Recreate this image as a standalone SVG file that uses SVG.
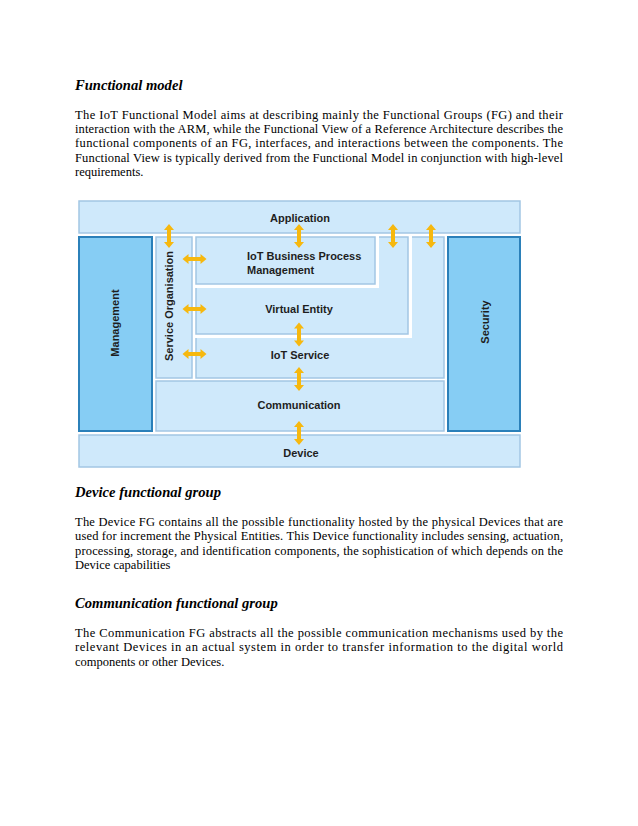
<svg xmlns="http://www.w3.org/2000/svg" width="638" height="826" viewBox="0 0 638 826">
<style>
.h{font-family:"Liberation Serif","Times New Roman",serif;font-weight:bold;font-style:italic;font-size:14.6px;fill:#000}
.p{font-family:"Liberation Serif","Times New Roman",serif;font-size:12.5px;fill:#000}
.box{fill:#cfe9fb;stroke:#a3c6e4;stroke-width:1.5}
.side{fill:#86cdf4;stroke:#2b80b9;stroke-width:2}
.gap{fill:#ffffff}
.lbl{font-family:"Liberation Sans",Arial,sans-serif;font-weight:bold;font-size:11px;fill:#1e1e1e}
.arr{fill:#f6b80f}
</style>
<defs>
<path id="va" d="M0,-12 L5,-6 L2,-6 L2,6 L5,6 L0,12 L-5,6 L-2,6 L-2,-6 L-5,-6 Z"/>
</defs>
<rect width="638" height="826" fill="#ffffff"/>

<g id="text">
<text class="h" x="75" y="90">Functional model</text>
<text class="p" x="75" y="118.5" textLength="488" lengthAdjust="spacing">The IoT Functional Model aims at describing mainly the Functional Groups (FG) and their</text>
<text class="p" x="75" y="132.9" textLength="488" lengthAdjust="spacing">interaction with the ARM, while the Functional View of a Reference Architecture describes the</text>
<text class="p" x="75" y="147.3" textLength="488" lengthAdjust="spacing">functional components of an FG, interfaces, and interactions between the components.   The</text>
<text class="p" x="75" y="161.7" textLength="488" lengthAdjust="spacing">Functional View is typically derived from the Functional Model in conjunction with high-level</text>
<text class="p" x="75" y="176.1">requirements.</text>

<text class="h" x="75" y="497">Device functional group</text>
<text class="p" x="75" y="526" textLength="488" lengthAdjust="spacing">The Device FG contains all the possible functionality hosted by the physical Devices that are</text>
<text class="p" x="75" y="540.4" textLength="488" lengthAdjust="spacing">used for increment the Physical Entities. This Device functionality includes sensing, actuation,</text>
<text class="p" x="75" y="554.8" textLength="488" lengthAdjust="spacing">processing, storage, and identification components, the sophistication of which depends on the</text>
<text class="p" x="75" y="569.2">Device capabilities</text>

<text class="h" x="75" y="608">Communication functional group</text>
<text class="p" x="75" y="637" textLength="488" lengthAdjust="spacing">The Communication FG abstracts all the possible communication mechanisms used by the</text>
<text class="p" x="75" y="651.4" textLength="488" lengthAdjust="spacing">relevant Devices in an actual system in order to transfer information to the digital world</text>
<text class="p" x="75" y="665.8">components or other Devices.</text>
</g>

<g id="application">
<rect class="box" x="79" y="201" width="441" height="32"/>
<text class="lbl" x="300" y="221.5" text-anchor="middle">Application</text>
</g>
<g id="management">
<rect class="side" x="79" y="237" width="73" height="194"/>
<text class="lbl" transform="translate(119,323) rotate(-90)" text-anchor="middle">Management</text>
</g>
<g id="service-organisation">
<rect class="box" x="156" y="237" width="36" height="141"/>
<text class="lbl" transform="translate(172.5,306) rotate(-90)" text-anchor="middle">Service Organisation</text>
</g>
<g id="iot-service">
<rect class="box" x="196" y="237" width="248" height="141"/>
<text class="lbl" x="300" y="359" text-anchor="middle">IoT Service</text>
</g>
<g id="virtual-entity">
<rect class="gap" x="195" y="236" width="217" height="102"/>
<rect class="box" x="196" y="237" width="212" height="97"/>
<text class="lbl" x="299" y="313" text-anchor="middle">Virtual Entity</text>
</g>
<g id="iot-business-process-management">
<rect class="gap" x="195" y="236" width="184" height="52"/>
<rect class="box" x="196" y="237" width="179" height="47"/>
<text class="lbl" x="247" y="259.5">IoT Business Process</text>
<text class="lbl" x="247" y="273.5">Management</text>
</g>
<g id="communication">
<rect class="box" x="156" y="381" width="288" height="50"/>
<text class="lbl" x="299" y="409" text-anchor="middle">Communication</text>
</g>
<g id="security">
<rect class="side" x="448" y="237" width="72" height="194"/>
<text class="lbl" transform="translate(489,322) rotate(-90)" text-anchor="middle">Security</text>
</g>
<g id="device">
<rect class="box" x="79" y="435" width="441" height="32"/>
<text class="lbl" x="301" y="457" text-anchor="middle">Device</text>
</g>

<g id="connectors" class="arr">
<use href="#va" transform="translate(169,236)"/>
<use href="#va" transform="translate(299,236)"/>
<use href="#va" transform="translate(393,236)"/>
<use href="#va" transform="translate(431,236)"/>
<use href="#va" transform="translate(194.5,259) rotate(90)"/>
<use href="#va" transform="translate(194.5,309) rotate(90)"/>
<use href="#va" transform="translate(194.5,354) rotate(90)"/>
<use href="#va" transform="translate(299,334.5)"/>
<use href="#va" transform="translate(299,379)"/>
<use href="#va" transform="translate(299,433)"/>
</g>
</svg>
